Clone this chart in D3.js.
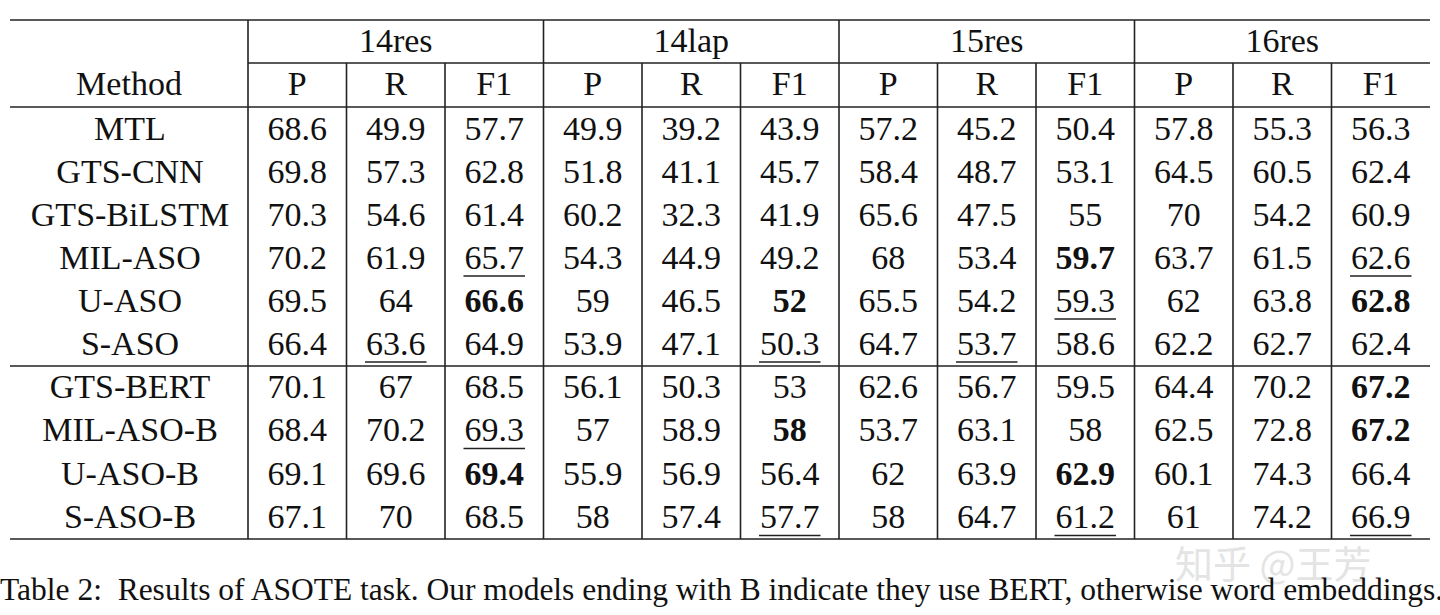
<!DOCTYPE html>
<html><head><meta charset="utf-8">
<script src="https://cdn.jsdelivr.net/npm/d3@7"></script>
<style>body{margin:0;background:#fff}</style></head>
<body><svg id="c" width="1440" height="615"></svg>
<script>
const groups = ["14res","14lap","15res","16res"];
const metrics = ["P","R","F1"];
const methods = ["MTL","GTS-CNN","GTS-BiLSTM","MIL-ASO","U-ASO","S-ASO","GTS-BERT","MIL-ASO-B","U-ASO-B","S-ASO-B"];
const values = [
 ["68.6","49.9","57.7","49.9","39.2","43.9","57.2","45.2","50.4","57.8","55.3","56.3"],
 ["69.8","57.3","62.8","51.8","41.1","45.7","58.4","48.7","53.1","64.5","60.5","62.4"],
 ["70.3","54.6","61.4","60.2","32.3","41.9","65.6","47.5","55","70","54.2","60.9"],
 ["70.2","61.9","65.7","54.3","44.9","49.2","68","53.4","59.7","63.7","61.5","62.6"],
 ["69.5","64","66.6","59","46.5","52","65.5","54.2","59.3","62","63.8","62.8"],
 ["66.4","63.6","64.9","53.9","47.1","50.3","64.7","53.7","58.6","62.2","62.7","62.4"],
 ["70.1","67","68.5","56.1","50.3","53","62.6","56.7","59.5","64.4","70.2","67.2"],
 ["68.4","70.2","69.3","57","58.9","58","53.7","63.1","58","62.5","72.8","67.2"],
 ["69.1","69.6","69.4","55.9","56.9","56.4","62","63.9","62.9","60.1","74.3","66.4"],
 ["67.1","70","68.5","58","57.4","57.7","58","64.7","61.2","61","74.2","66.9"]];
// emphasis: b = bold (best), u = underline (second)
const emphasis = [
 "............",
 "............",
 "............",
 "..u.....b..u",
 "..b..b..u..b",
 ".u...u.u....",
 "...........b",
 "..u..b.....b",
 "..b.....b...",
 ".....u..u..u"];
const caption = "Table 2:  Results of ASOTE task. Our models ending with B indicate they use BERT, otherwise word embeddings.";

const svg = d3.select("#c");
const font = "'Liberation Serif','Times New Roman',serif";
const x0 = 10, xM = 248, xR = 1430;
const x = d3.scaleLinear().domain([0,12]).range([xM,xR]);
const rowY = d3.scaleLinear().domain([0,1]).range([40,83]);
const dataY = i => i < 6 ? 128 + i*43 : 386 + (i-6)*43.5;
const line = (a,b,c,d,w=1.6)=>svg.append("line").attr("x1",a).attr("y1",b).attr("x2",c).attr("y2",d).attr("stroke","#222").attr("stroke-width",w);
line(x0,20,xR,20); line(xM,63,xR,63); line(x0,107,xR,107); line(x0,366,xR,366); line(x0,539,xR,539);
line(xM,20,xM,539);
[3,6,9].forEach(k=>line(x(k),20,x(k),539));
d3.range(1,12).filter(k=>k%3).forEach(k=>line(x(k),63,x(k),539));
const txt=(s,cx,cy,opt={})=>svg.append("text").attr("x",cx).attr("y",cy).attr("text-anchor",opt.anchor||"middle")
 .attr("dominant-baseline","central").attr("font-family",font).attr("font-size",opt.size||34)
 .attr("font-weight",opt.bold?"bold":"normal").attr("fill","#111").style("white-space","pre").text(s);
groups.forEach((g,i)=>txt(g,(x(i*3)+x(i*3+3))/2,rowY(0)));
txt("Method",(x0+xM)/2,rowY(1));
groups.forEach((g,i)=>metrics.forEach((m,j)=>txt(m,(x(i*3+j)+x(i*3+j+1))/2,rowY(1))));
methods.forEach((m,i)=>{
  txt(m,(x0+xM)/2+1,dataY(i));
  values[i].forEach((v,k)=>{
    const e = emphasis[i][k], cx=(x(k)+x(k+1))/2;
    const t = txt(v,cx,dataY(i),{bold:e==="b"});
    if(e==="u"){const w=t.node().getComputedTextLength(); line(cx-w/2-1,dataY(i)+19,cx+w/2+1,dataY(i)+19,1.4);}
  });
});
svg.append("text").attr("x",1175).attr("y",561).attr("dominant-baseline","central").attr("font-family","'Noto Sans CJK SC'")
 .attr("font-size",38).attr("fill","#e4e4e4").text("知乎 @王芳");
txt(caption,0,589,{anchor:"start",size:31.5});
</script></body></html>
